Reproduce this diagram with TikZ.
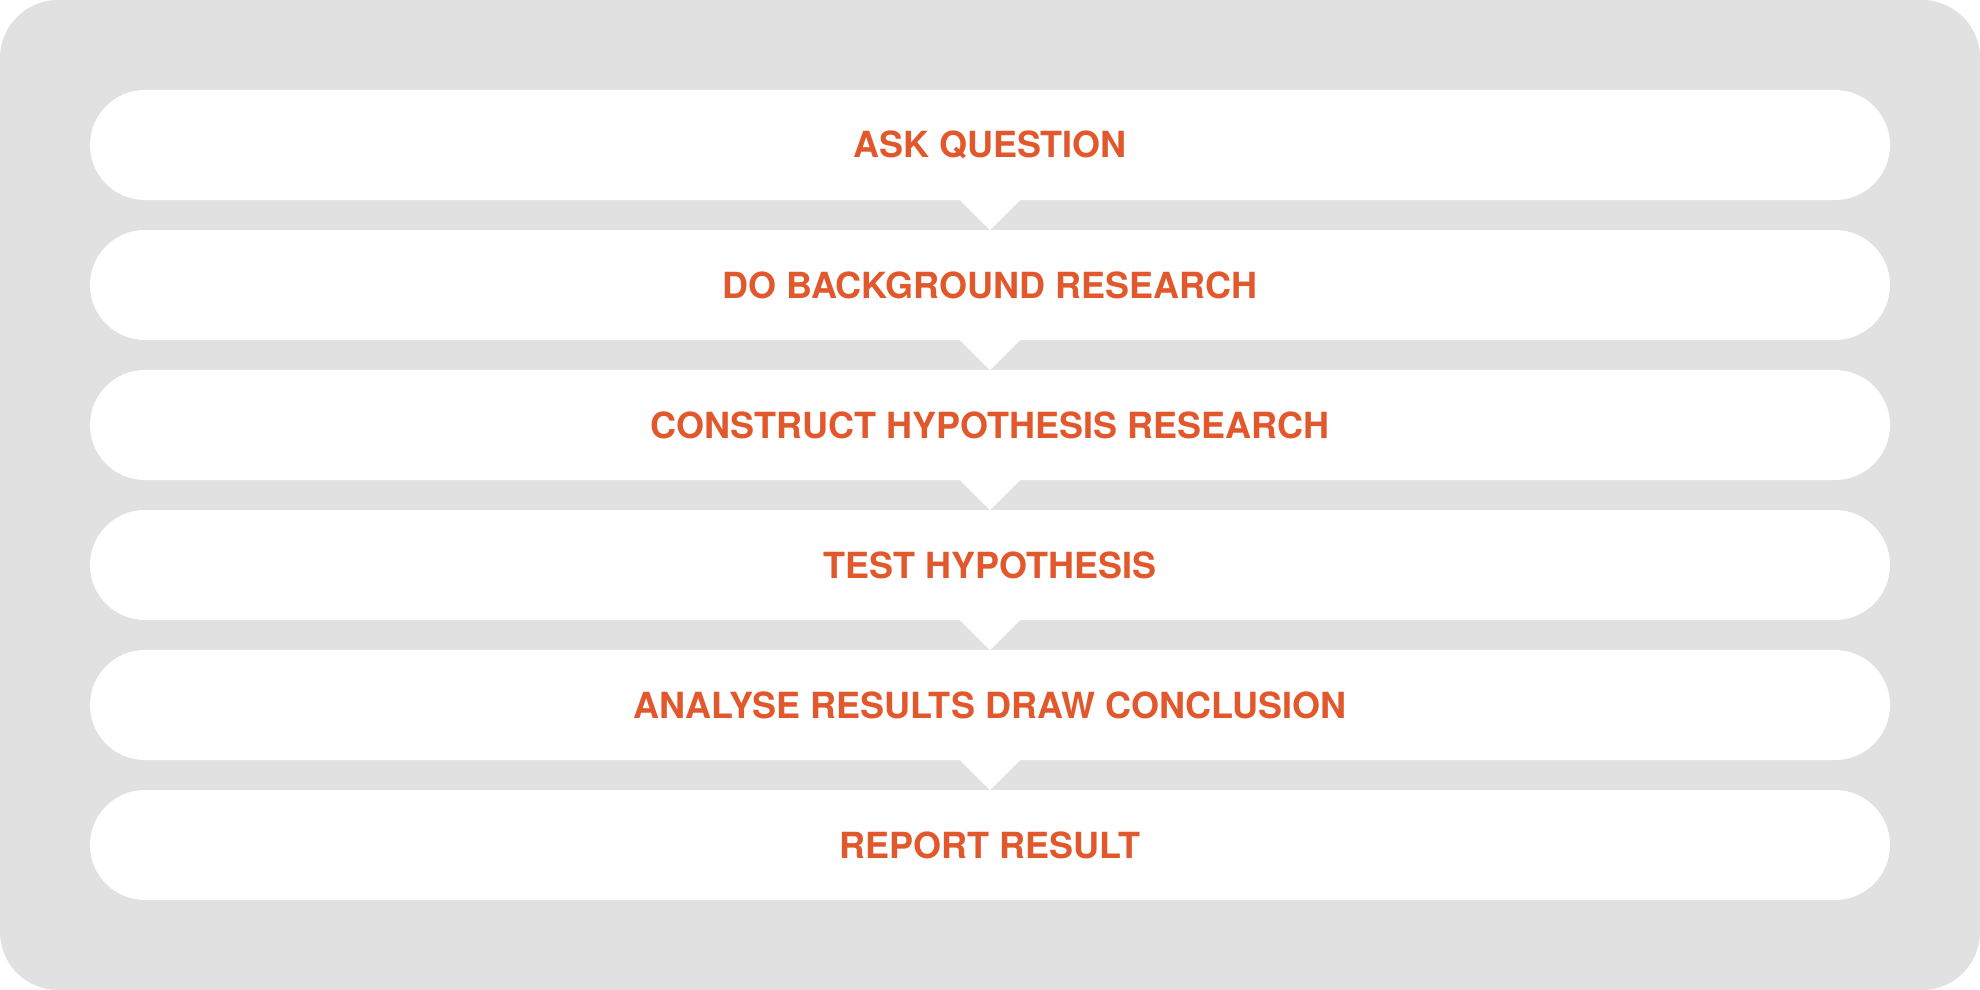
\documentclass[tikz,border=0pt]{standalone}
\usepackage{fontspec}
\setmainfont{TeX Gyre Heros}
\usetikzlibrary{shapes.misc}
\definecolor{bggray}{HTML}{E1E1E1}
\definecolor{steporange}{HTML}{E2582D}
\begin{document}
\begin{tikzpicture}[x=1pt,y=-1pt,
  stepbox/.style={rounded rectangle, rounded rectangle arc length=180,
    fill=white, draw=none,
    minimum width=1800pt, minimum height=110pt, inner sep=0pt,
    font=\fontsize{36}{40}\selectfont\bfseries, text=steporange},
  notch/.style={fill=white, draw=none}]
\fill[bggray, rounded corners=58pt] (0,0) rectangle (1980,990);
\useasboundingbox (0,0) rectangle (1980,990);
\node[stepbox] (b1) at (990,145) {ASK QUESTION};
\node[stepbox] (b2) at (990,285) {DO BACKGROUND RESEARCH};
\node[stepbox] (b3) at (990,425) {CONSTRUCT HYPOTHESIS RESEARCH};
\node[stepbox] (b4) at (990,565) {TEST HYPOTHESIS};
\node[stepbox] (b5) at (990,705) {ANALYSE RESULTS DRAW CONCLUSION};
\node[stepbox] (b6) at (990,845) {REPORT RESULT};
\foreach \n in {b1,b2,b3,b4,b5}{
  \fill[notch] ([xshift=-30.5pt,yshift=0.5pt]\n.south) -- ([yshift=-30pt]\n.south) -- ([xshift=30.5pt,yshift=0.5pt]\n.south) -- cycle;
}
\end{tikzpicture}
\end{document}
